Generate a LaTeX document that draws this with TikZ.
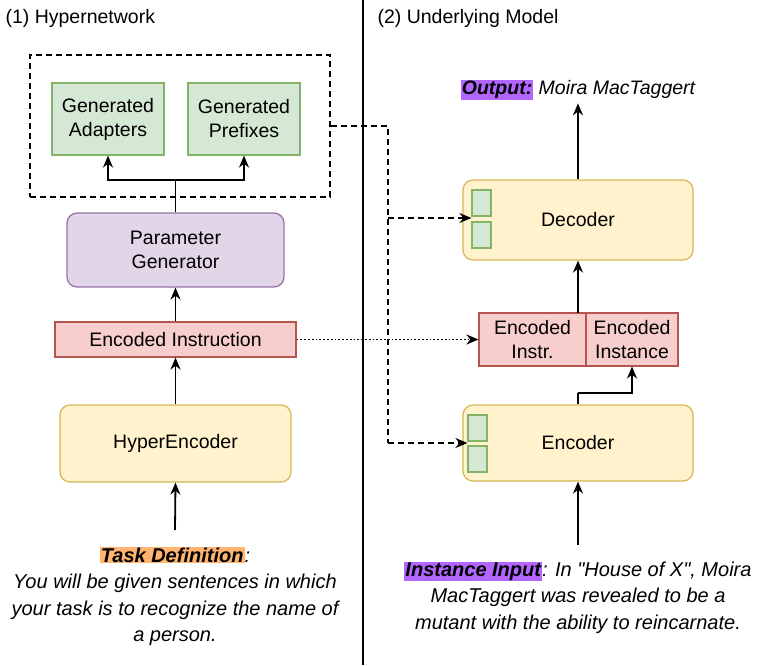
\documentclass[tikz,border=0pt]{standalone}
\usepackage{fontspec}
\setmainfont{Liberation Sans}
\usetikzlibrary{arrows.meta,calc}
\definecolor{gfill}{HTML}{D5E8D4}\definecolor{gline}{HTML}{82B366}
\definecolor{pfill}{HTML}{E1D5E7}\definecolor{pline}{HTML}{9673A6}
\definecolor{rfill}{HTML}{F8CECC}\definecolor{rline}{HTML}{B85450}
\definecolor{yfill}{HTML}{FFF2CC}\definecolor{yline}{HTML}{D6B656}
\definecolor{orhl}{HTML}{FFB570}\definecolor{puhl}{HTML}{B266FF}
\setlength{\fboxsep}{1pt}
\begin{document}
\begin{tikzpicture}[x=1pt,y=-1pt,font=\fontsize{19.5}{24}\selectfont,
  box/.style={draw,line width=1.2pt,inner sep=0pt,align=center},
  green/.style={box,fill=gfill,draw=gline},
  purple/.style={box,fill=pfill,draw=pline,rounded corners=10pt},
  red/.style={box,fill=rfill,draw=rline},
  yellow/.style={box,fill=yfill,draw=yline,rounded corners=10pt},
  arr/.style={-{Stealth[length=12pt,width=10pt]},line width=1.8pt},
  dsh/.style={dash pattern=on 6pt off 4pt},
  txt/.style={align=center,font=\fontsize{20}{26.5}\selectfont\itshape}]
\useasboundingbox (0,0) rectangle (763,665);
\node[anchor=west] (t1) at (2,18) {(1) Hypernetwork};
\node[anchor=west] (t2) at (374,18) {(2) Underlying Model};
\draw[line width=1.5pt] (363,0) -- (363,665);
\node[draw,dsh,line width=1.5pt,minimum width=300,minimum height=142] (db) at (180,126) {};
\node[green,minimum width=112,minimum height=72] (ga) at (108,119) {Generated\\Adapters};
\node[green,minimum width=112,minimum height=72] (gp) at (244,119) {Generated\\Prefixes};
\node[purple,minimum width=217,minimum height=74] (pg) at (175.5,250) {Parameter\\Generator};
\node[red,minimum width=241,minimum height=35] (ei) at (175.5,339.5) {Encoded Instruction};
\node[yellow,minimum width=231,minimum height=77] (he) at (175.5,443.5) {HyperEncoder};
\coordinate (tdtop) at (175,530);
\node[txt,anchor=north] (td) at (175,543) {\colorbox{orhl}{\bfseries Task Definition}:\\You will be given sentences in which\\your task is to recognize the name of\\a person.};
\draw[arr] (tdtop) -- (he.south);
\draw[arr] (he.north) -- (ei.south);
\draw[arr] (ei.north) -- (pg.south);
\coordinate (sp) at (175.5,180);
\draw[line width=1.8pt] (pg.north) -- (sp);
\draw[arr] (sp) -| (ga.south);
\draw[arr] (sp) -| (gp.south);
% right side
\node[yellow,minimum width=230,minimum height=80] (dec) at (578,220) {Decoder};
\node[green,minimum width=19,minimum height=26] (d1) at (481.5,203) {};
\node[green,minimum width=19,minimum height=26] (d2) at (481.5,235) {};
\node[yellow,minimum width=230,minimum height=76] (enc) at (578,443) {Encoder};
\node[green,minimum width=19,minimum height=26] (e1) at (477.5,428) {};
\node[green,minimum width=19,minimum height=26] (e2) at (477.5,459) {};
\node[red,minimum width=107,minimum height=53] (eis) at (532.5,339.5) {Encoded\\Instr.};
\node[red,minimum width=92,minimum height=53] (ein) at (632,339.5) {Encoded\\Instance};
\node (out) at (578,90) {\colorbox{puhl}{\bfseries\itshape Output:} \itshape Moira MacTaggert};
\coordinate (intop) at (578,545);
\node[txt,anchor=north] (ii) at (578,558) {\colorbox{puhl}{\bfseries Instance Input}: In \textquotedbl House of X\textquotedbl, Moira\\MacTaggert was revealed to be a\\mutant with the ability to reincarnate.};
\draw[arr] (intop) -- (enc.south);
\coordinate (eb) at (578,393);
\draw[line width=1.8pt] (enc.north) -- (eb);
\draw[arr] (eb) -| (ein.south);
\draw[arr] (578,313) -- (dec.south);
\draw[arr] (dec.north) -- (out.south);
\draw[arr,dotted] (ei.east) -- (eis.west);
\coordinate (dj) at (388,126);
\coordinate (dj2) at (388,218);
\coordinate (dj3) at (388,443);
\draw[dsh,line width=1.5pt] (db.east) -- (dj) -- (dj3);
\draw[arr,dsh] (dj2) -- (d1.west |- dj2);
\draw[arr,dsh] (dj3) -- (e1.west |- dj3);
\end{tikzpicture}
\end{document}
